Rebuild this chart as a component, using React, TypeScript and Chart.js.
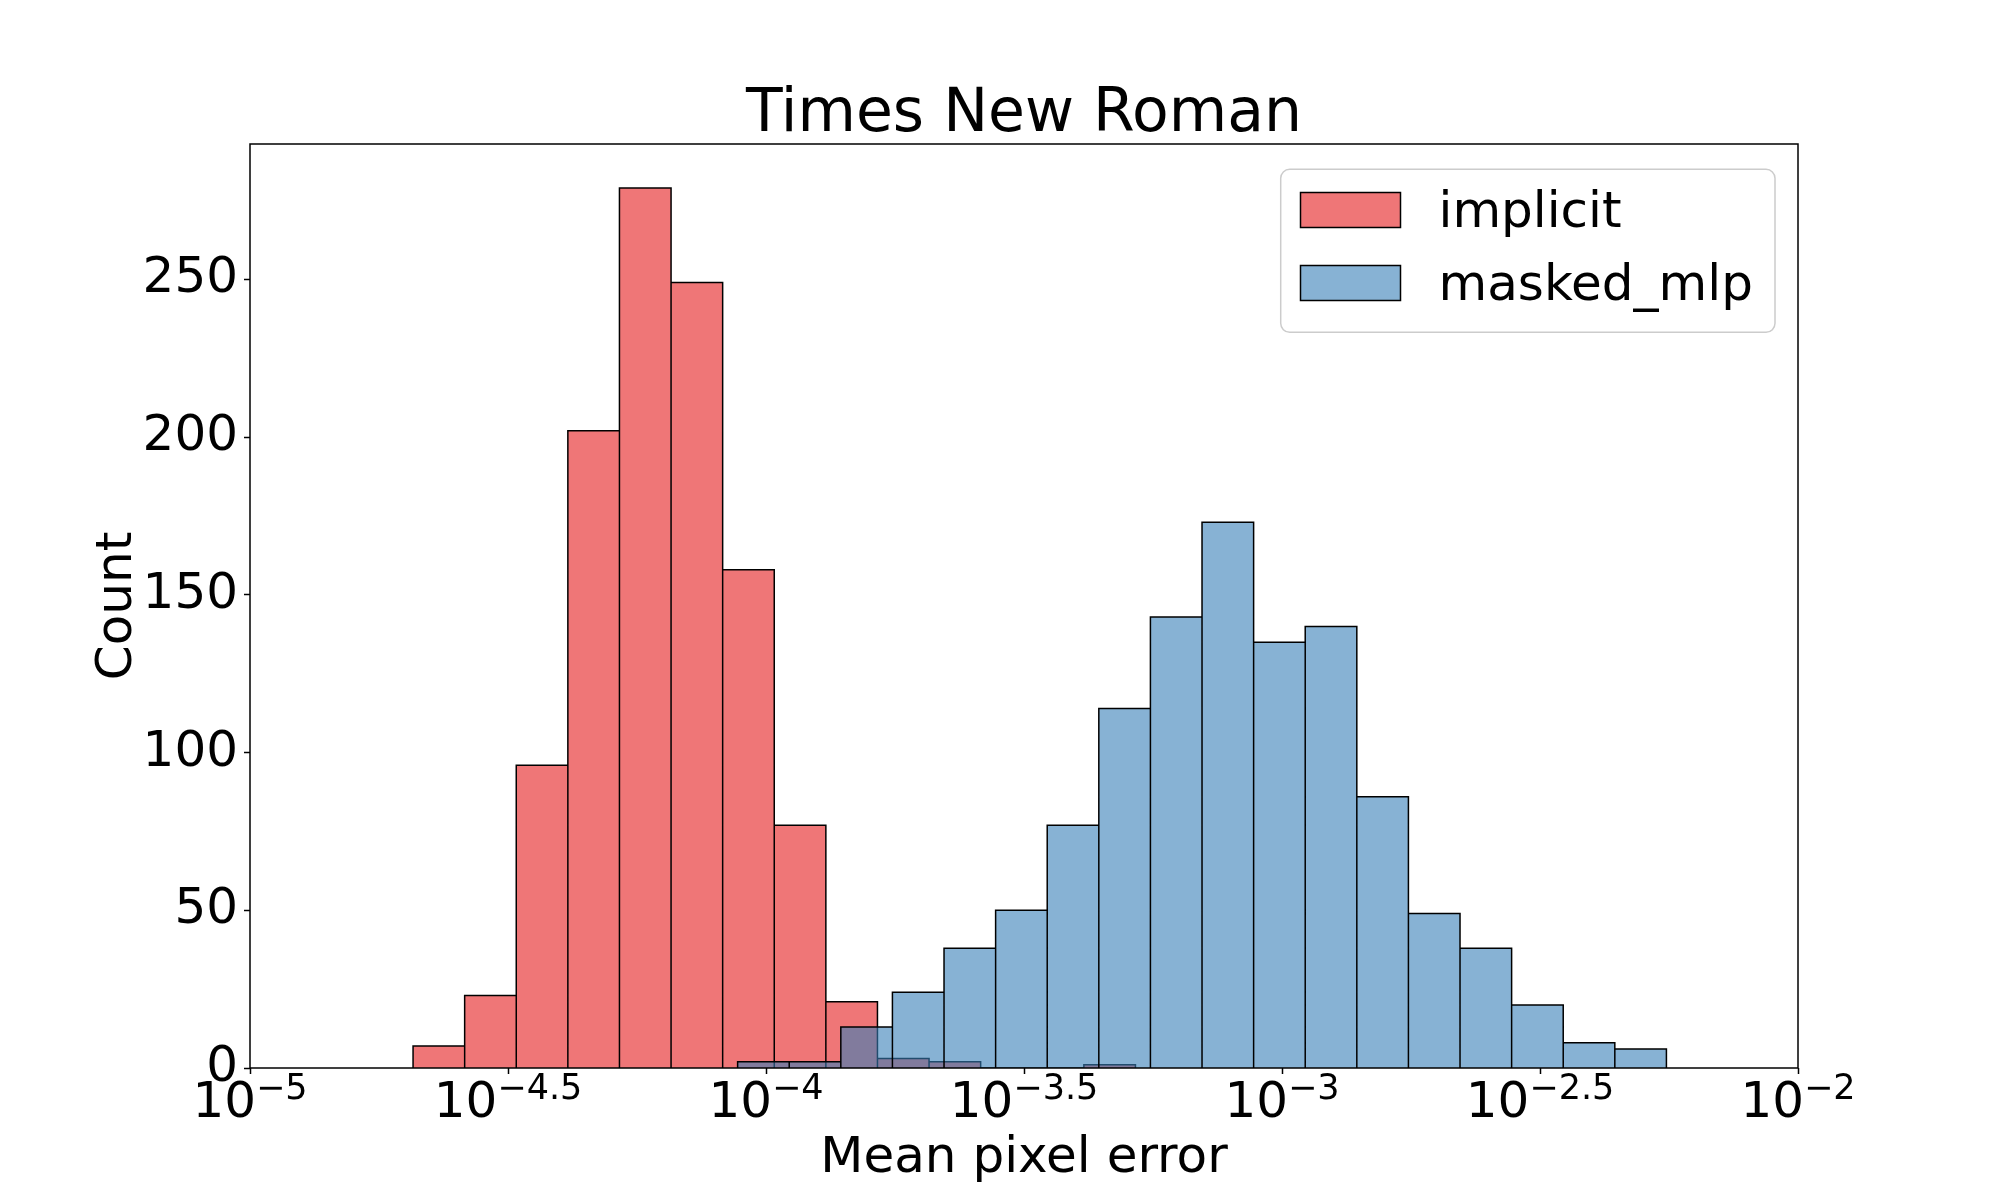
import React, { useEffect, useRef } from "react";
import { Chart, registerables } from "chart.js";

Chart.register(...registerables);

// ---- data ----
const titleText = "Times New Roman";
const xLabel = "Mean pixel error";
const yLabel = "Count";
const seriesNames = ["implicit", "masked_mlp"];

// bin edges as log10(mean pixel error)
const implicitEdgesLog = [-4.684, -4.584, -4.484, -4.384, -4.284, -4.184, -4.084, -3.984, -3.884, -3.784, -3.684, -3.584, -3.484, -3.384, -3.284];
const implicitCounts = [7, 23, 96, 202, 279, 249, 158, 77, 21, 3, 2, 0, 0, 1];

const maskedEdgesLog = [-4.055, -3.955, -3.855, -3.755, -3.655, -3.555, -3.455, -3.355, -3.255, -3.155, -3.055, -2.955, -2.855, -2.755, -2.655, -2.555, -2.455, -2.355, -2.255];
const maskedCounts = [2, 2, 13, 24, 38, 50, 77, 114, 143, 173, 135, 140, 86, 49, 38, 20, 8, 6];

const xTickExponents = [-5, -4.5, -4, -3.5, -3, -2.5, -2];
const yTickValues = [0, 50, 100, 150, 200, 250];
const xMin = 1e-5;
const xMax = 1e-2;
const yMin = 0;
const yMax = 292.95;

const fillColors = ["rgba(228,26,28,0.6)", "rgba(55,126,184,0.6)"];
const FONT = '"DejaVu Sans", "Liberation Sans", sans-serif';

function histPath(edgesLog: number[], counts: number[]) {
  const pts: { x: number; y: number }[] = [];
  for (let i = 0; i < counts.length; i++) {
    const x0 = Math.pow(10, edgesLog[i]);
    const x1 = Math.pow(10, edgesLog[i + 1]);
    pts.push({ x: x0, y: 0 });
    pts.push({ x: x0, y: counts[i] });
    pts.push({ x: x1, y: counts[i] });
    pts.push({ x: x1, y: 0 });
  }
  return pts;
}

const overlayPlugin = {
  id: "overlay",
  afterDatasetsDraw(chart: any) {
    const { ctx, chartArea } = chart;
    ctx.save();
    ctx.strokeStyle = "#000";
    ctx.lineWidth = 1.5;
    ctx.strokeRect(chartArea.left, chartArea.top, chartArea.right - chartArea.left, chartArea.bottom - chartArea.top);
    ctx.restore();
  },
  afterDraw(chart: any) {
    const { ctx, chartArea } = chart;
    const xs = chart.scales.x;
    const cx = (chartArea.left + chartArea.right) / 2;
    const cy = (chartArea.top + chartArea.bottom) / 2;
    ctx.save();
    ctx.fillStyle = "#000";
    ctx.textBaseline = "alphabetic";

    // title
    ctx.font = `60px ${FONT}`;
    ctx.textAlign = "center";
    ctx.fillText(titleText, cx, chartArea.top - 13);

    // x tick labels with superscript exponents
    for (const e of xTickExponents) {
      const px = xs.getPixelForValue(Math.pow(10, e));
      const base = "10";
      const exp = "\u2212" + String(Math.abs(e));
      ctx.font = `50px ${FONT}`;
      const wb = ctx.measureText(base).width;
      ctx.font = `35px ${FONT}`;
      const we = ctx.measureText(exp).width;
      const start = px - (wb + we) / 2;
      ctx.textAlign = "left";
      ctx.font = `50px ${FONT}`;
      ctx.fillText(base, start, chartArea.bottom + 49);
      ctx.font = `35px ${FONT}`;
      ctx.fillText(exp, start + wb, chartArea.bottom + 31);
    }

    // x axis label
    ctx.font = `50px ${FONT}`;
    ctx.textAlign = "center";
    ctx.fillText(xLabel, cx, chartArea.bottom + 104);

    // y axis label
    ctx.save();
    ctx.translate(chartArea.left - 119, cy);
    ctx.rotate(-Math.PI / 2);
    ctx.textAlign = "center";
    ctx.fillText(yLabel, 0, 0);
    ctx.restore();

    // legend
    const fx = chartArea.right - 517.3;
    const fy = chartArea.top + 25.3;
    const fw = 494.3;
    const fh = 163;
    ctx.beginPath();
    if ((ctx as any).roundRect) {
      (ctx as any).roundRect(fx, fy, fw, fh, 9);
    } else {
      ctx.rect(fx, fy, fw, fh);
    }
    ctx.fillStyle = "rgba(255,255,255,0.8)";
    ctx.fill();
    ctx.strokeStyle = "#cccccc";
    ctx.lineWidth = 1.5;
    ctx.stroke();

    const rowBottoms = [chartArea.top + 83.5, chartArea.top + 156.5];
    for (let i = 0; i < seriesNames.length; i++) {
      const by = rowBottoms[i];
      const px0 = chartArea.right - 497.5;
      ctx.fillStyle = fillColors[i];
      ctx.fillRect(px0, by - 35, 100, 35);
      ctx.strokeStyle = "#000";
      ctx.lineWidth = 1.5;
      ctx.strokeRect(px0, by - 35, 100, 35);
      ctx.fillStyle = "#000";
      ctx.font = `50px ${FONT}`;
      ctx.textAlign = "left";
      ctx.fillText(seriesNames[i], chartArea.right - 359.5, by - 0.5);
    }
    ctx.restore();
  },
};

export default function App() {
  const canvasRef = useRef<HTMLCanvasElement | null>(null);

  useEffect(() => {
    if (!canvasRef.current) return;
    const chart = new Chart(canvasRef.current, {
      type: "line",
      data: {
        datasets: [
          {
            label: seriesNames[0],
            data: histPath(implicitEdgesLog, implicitCounts),
            backgroundColor: fillColors[0],
            borderColor: "#000",
            borderWidth: 1.5,
            borderJoinStyle: "miter",
            fill: "origin",
            pointRadius: 0,
            tension: 0,
            order: 1,
          },
          {
            label: seriesNames[1],
            data: histPath(maskedEdgesLog, maskedCounts),
            backgroundColor: fillColors[1],
            borderColor: "#000",
            borderWidth: 1.5,
            borderJoinStyle: "miter",
            fill: "origin",
            pointRadius: 0,
            tension: 0,
            order: 0,
          },
        ],
      },
      options: {
        animation: false,
        responsive: false,
        maintainAspectRatio: false,
        devicePixelRatio: 1,
        layout: { padding: { top: 144, right: 202, bottom: 0, left: 0 } },
        plugins: {
          legend: { display: false },
          title: { display: false },
          tooltip: { enabled: false },
        },
        scales: {
          x: {
            type: "logarithmic",
            min: xMin,
            max: xMax,
            border: { display: false },
            grid: { drawOnChartArea: false, drawTicks: true, tickLength: 6, tickColor: "#000", tickWidth: 1.5 },
            ticks: { callback: () => "", font: { size: 1 } },
            afterBuildTicks: (scale: any) => {
              scale.ticks = xTickExponents.map((e) => ({ value: Math.pow(10, e) }));
            },
            afterFit: (scale: any) => {
              scale.height = 132;
            },
          },
          y: {
            type: "linear",
            min: yMin,
            max: yMax,
            border: { display: false },
            grid: { drawOnChartArea: false, drawTicks: true, tickLength: 6, tickColor: "#000", tickWidth: 1.5 },
            ticks: {
              color: "#000",
              padding: 6,
              font: { family: FONT, size: 50 },
              callback: (v: any) => String(v),
            },
            afterBuildTicks: (scale: any) => {
              scale.ticks = yTickValues.map((v) => ({ value: v }));
            },
            afterFit: (scale: any) => {
              scale.width = 250;
            },
          },
        },
      },
      plugins: [overlayPlugin],
    } as any);
    return () => chart.destroy();
  }, []);

  return (
    <div style={{ position: "fixed", left: 0, top: 0, width: 2000, height: 1200, background: "#fff" }}>
      <canvas ref={canvasRef} width={2000} height={1200} style={{ display: "block", width: 2000, height: 1200 }} />
    </div>
  );
}
